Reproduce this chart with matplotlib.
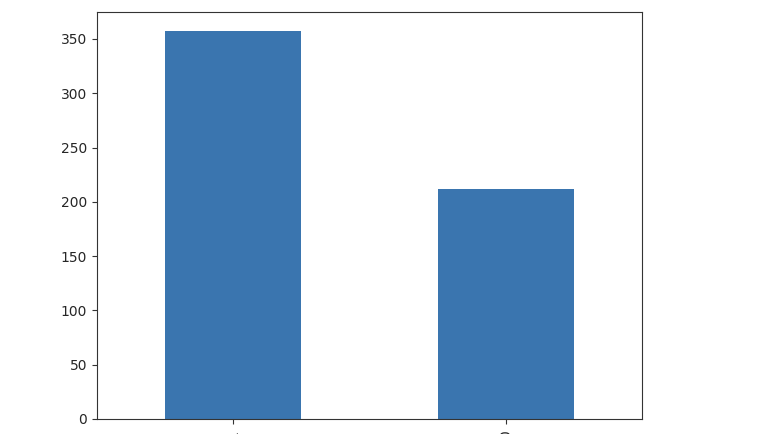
import matplotlib
matplotlib.use("Agg")
import pandas as pd
from matplotlib import pyplot as plt

labels = ["1", "0"]
counts = [357, 212]

counts_series = pd.Series(counts, index=labels)

fig = plt.figure(figsize=(7.68, 4.34), dpi=100)
ax = fig.add_axes([0.1263, 0.0346, 0.7096, 0.9378])
counts_series.plot(kind="bar", ax=ax, color="#3a75af")
ax.set_yticks([0, 50, 100, 150, 200, 250, 300, 350])
ax.tick_params(axis="both", labelcolor="#262626", color="#333333")
ax.tick_params(axis="x", pad=4.5)
for spine in ax.spines.values():
    spine.set_color("#333333")

fig.savefig("out.png", dpi=100)
